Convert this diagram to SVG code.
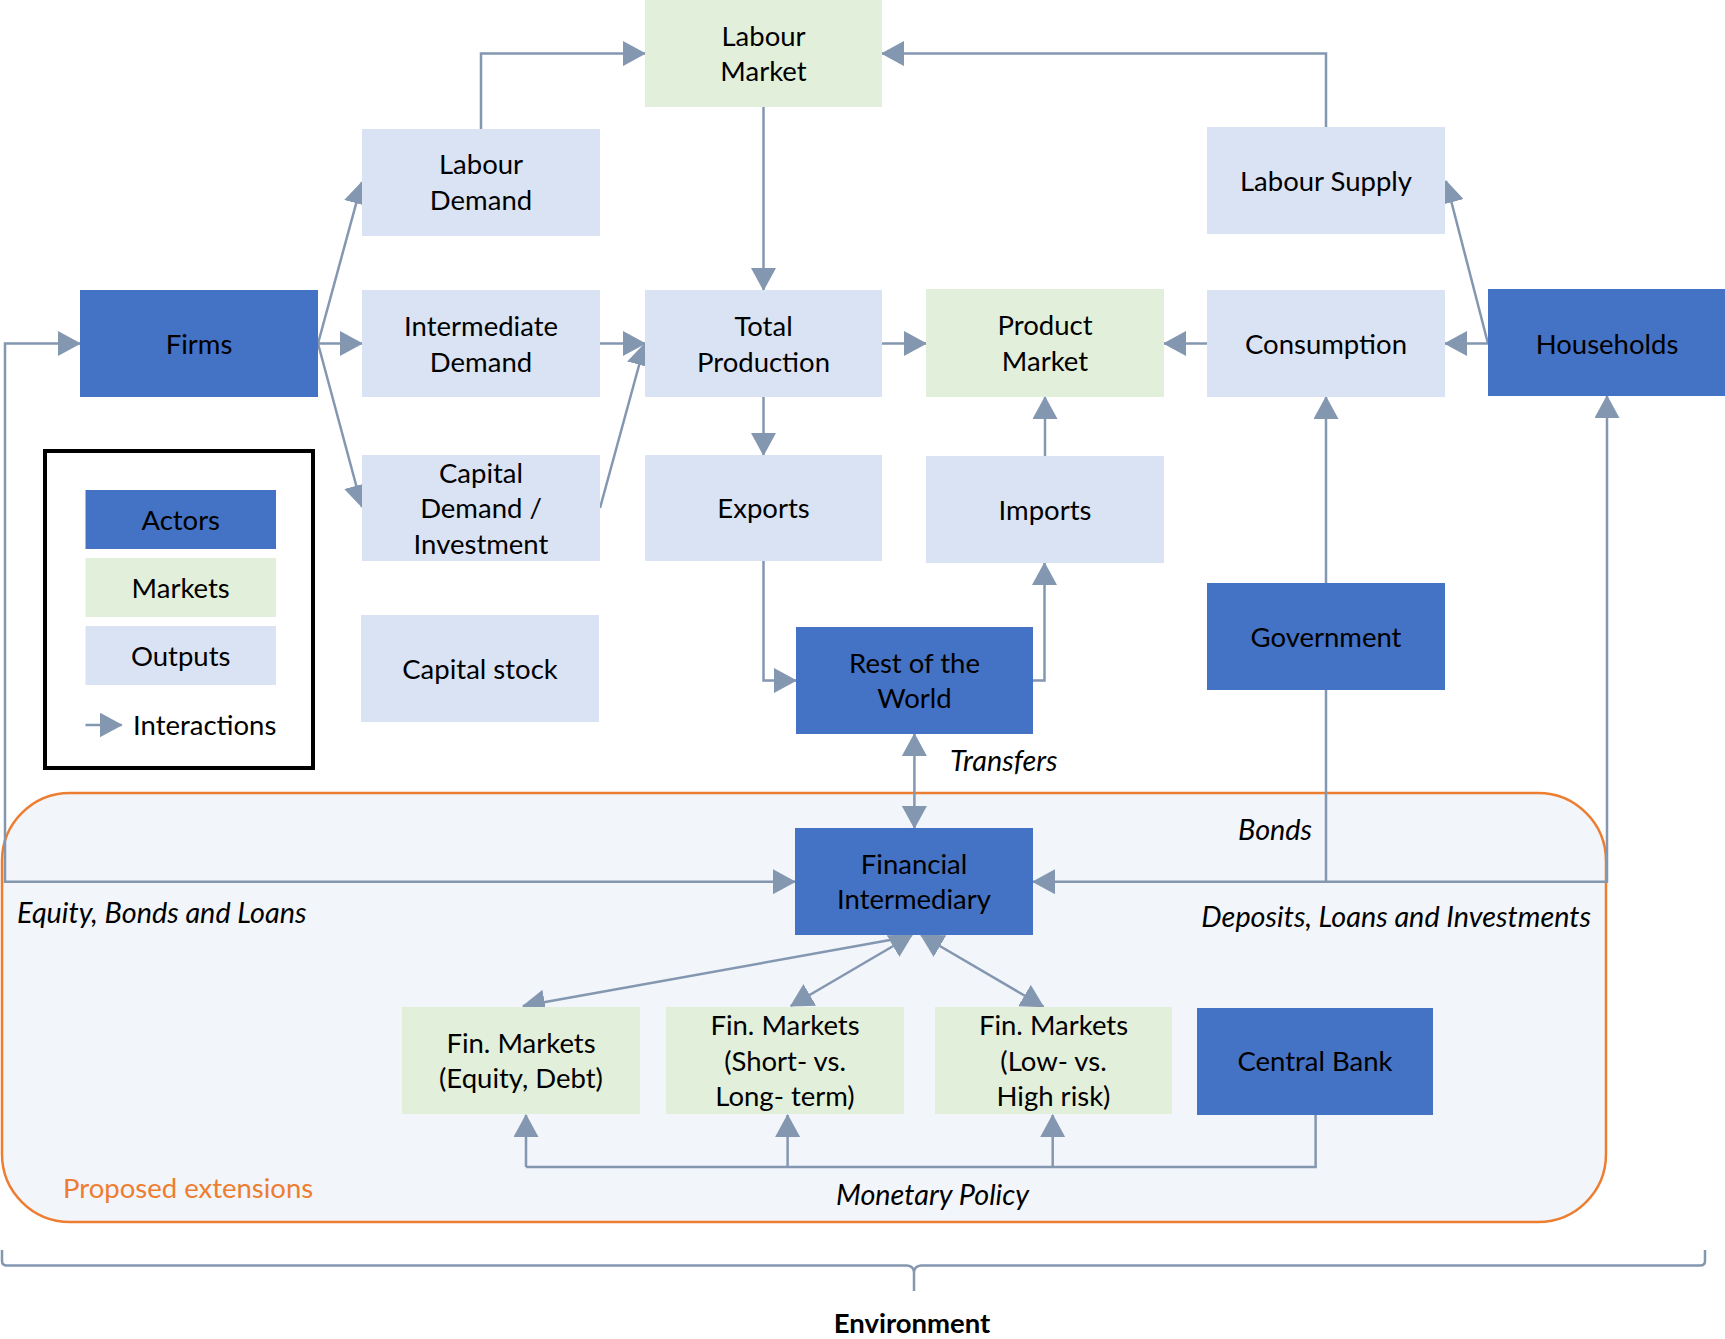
<svg xmlns="http://www.w3.org/2000/svg" width="1725" height="1339" viewBox="0 0 1725 1339">
<defs>
<style>
.actor{fill:#4472C4}
.market{fill:#E2EFDA}
.output{fill:#DAE3F3}
text{font-family:Lato,"Open Sans",sans-serif;font-size:27.5px;fill:#000}
.c{text-anchor:middle}
.it{font-style:italic;font-size:28.8px}
.con{fill:none;stroke:#8497B0;stroke-width:2.5}
.ar{marker-end:url(#ah)}
.ar2{marker-end:url(#ah);marker-start:url(#ah)}
</style>
<marker id="ah" viewBox="0 0 23 25" markerWidth="23" markerHeight="25" refX="22" refY="12.5" orient="auto-start-reverse" markerUnits="userSpaceOnUse">
<path d="M0,0 L23,12.5 L0,25 z" fill="#8497B0"/>
</marker>
</defs>
<rect width="1725" height="1339" fill="#fff"/>

<g id="proposed-extensions">
<rect x="2" y="793" width="1604" height="429" rx="68" ry="68" fill="#F2F5FA" stroke="#ED7D31" stroke-width="2.5"/>
<text x="63" y="1198" style="fill:#ED7D31">Proposed extensions</text>
</g>

<g id="legend">
<rect x="45" y="451" width="268" height="317" fill="#fff" stroke="#000" stroke-width="4"/>
<rect class="actor" x="85.5" y="490" width="190.5" height="59"/>
<text class="c" x="180.7" y="529.5">Actors</text>
<rect class="market" x="85.5" y="558" width="190.5" height="59"/>
<text class="c" x="180.7" y="597.5">Markets</text>
<rect class="output" x="85.5" y="626" width="190.5" height="59"/>
<text class="c" x="180.7" y="665.5">Outputs</text>
<path class="con ar" d="M85.5,725 H121.7"/>
<text x="133" y="735">Interactions</text>
</g>

<g id="connectors">
<path class="con ar" d="M481,129 V53.6 H645"/>
<path class="con ar" d="M1326,127 V53.6 H882"/>
<path class="con ar" d="M763.5,107 V290"/>
<path class="con ar" d="M318,343.5 L362,182"/>
<path class="con ar" d="M318,343.5 H362"/>
<path class="con ar" d="M318,343.5 L362,507"/>
<path class="con ar" d="M600,343.5 H645"/>
<path class="con ar" d="M600,508 L645,343.5"/>
<path class="con ar" d="M882,343.5 H926"/>
<path class="con ar" d="M1207,343.5 H1164"/>
<path class="con ar" d="M1488,343.5 H1445"/>
<path class="con ar" d="M1488,343.5 L1446,181"/>
<path class="con ar" d="M763.5,397 V455"/>
<path class="con ar" d="M1045,456 V397"/>
<path class="con ar" d="M763.5,561 V680.5 H796"/>
<path class="con ar" d="M1033,680.5 H1044.5 V563"/>
<path class="con ar" d="M1326,583 V397"/>
<path class="con ar2" d="M914.4,734 V828"/>
<path class="con ar2" d="M795,881.7 H5 V343.5 H80"/>
<path class="con ar2" d="M1033,881.7 H1607 V396"/>
<path class="con" d="M1326,690 V881.7"/>
<path class="con ar" d="M890,940 L523,1006"/>
<path class="con ar2" d="M912,935 L790.8,1006"/>
<path class="con ar2" d="M921,935 L1043.4,1006.7"/>
<path class="con" d="M1315.6,1115 V1167 H526"/>
<path class="con ar" d="M526,1167 V1115"/>
<path class="con ar" d="M787.6,1167 V1115"/>
<path class="con ar" d="M1052.7,1167 V1115"/>
<path class="con" d="M2,1250 V1261 Q2,1265.5 7,1265.5 H907 Q914,1266 914,1273 V1291 M914,1273 Q914,1266 921,1265.5 H1700 Q1705,1265.5 1705,1261 V1250"/>
</g>

<g id="labels">
<text class="it" x="950" y="771">Transfers</text>
<text class="it" x="1238" y="840">Bonds</text>
<text class="it" x="17" y="923">Equity, Bonds and Loans</text>
<text class="it" x="1591" y="927" text-anchor="end">Deposits, Loans and Investments</text>
<text class="it" x="836" y="1205">Monetary Policy</text>
<text class="c" x="912" y="1333" font-weight="bold">Environment</text>
</g>

<g id="labour-market"><rect class="market" x="645" y="0" width="237" height="107"/><text class="c" x="763.5" y="45.5">Labour</text><text class="c" x="763.5" y="81">Market</text></g>
<g id="labour-demand"><rect class="output" x="362" y="129" width="238" height="107"/><text class="c" x="481" y="174">Labour</text><text class="c" x="481" y="210">Demand</text></g>
<g id="firms"><rect class="actor" x="80" y="290" width="238" height="107"/><text class="c" x="199" y="354">Firms</text></g>
<g id="intermediate-demand"><rect class="output" x="362" y="290" width="238" height="107"/><text class="c" x="481" y="336">Intermediate</text><text class="c" x="481" y="371.5">Demand</text></g>
<g id="total-production"><rect class="output" x="645" y="290" width="237" height="107"/><text class="c" x="763.5" y="336">Total</text><text class="c" x="763.5" y="371.5">Production</text></g>
<g id="capital-demand"><rect class="output" x="362" y="455" width="238" height="106"/><text class="c" x="481" y="482.5">Capital</text><text class="c" x="481" y="518">Demand /</text><text class="c" x="481" y="553.5">Investment</text></g>
<g id="exports"><rect class="output" x="645" y="455" width="237" height="106"/><text class="c" x="763.5" y="518">Exports</text></g>
<g id="capital-stock"><rect class="output" x="361" y="615" width="238" height="107"/><text class="c" x="480" y="678.5">Capital stock</text></g>
<g id="labour-supply"><rect class="output" x="1207" y="127" width="238" height="107"/><text class="c" x="1326" y="191">Labour Supply</text></g>
<g id="product-market"><rect class="market" x="926" y="289" width="238" height="108"/><text class="c" x="1045" y="335">Product</text><text class="c" x="1045" y="370.5">Market</text></g>
<g id="consumption"><rect class="output" x="1207" y="290" width="238" height="107"/><text class="c" x="1326" y="353.5">Consumption</text></g>
<g id="households"><rect class="actor" x="1488" y="289" width="238" height="107"/><text class="c" x="1607" y="353.5">Households</text></g>
<g id="imports"><rect class="output" x="926" y="456" width="238" height="107"/><text class="c" x="1045" y="519.5">Imports</text></g>
<g id="government"><rect class="actor" x="1207" y="583" width="238" height="107"/><text class="c" x="1326" y="646.5">Government</text></g>
<g id="rest-of-the-world"><rect class="actor" x="796" y="627" width="237" height="107"/><text class="c" x="914.5" y="672.5">Rest of the</text><text class="c" x="914.5" y="708">World</text></g>
<g id="financial-intermediary"><rect class="actor" x="795" y="828" width="238" height="107"/><text class="c" x="914" y="873.5">Financial</text><text class="c" x="914" y="909">Intermediary</text></g>
<g id="fin-markets-equity"><rect class="market" x="402" y="1007" width="238" height="107"/><text class="c" x="521" y="1052.5">Fin. Markets</text><text class="c" x="521" y="1088">(Equity, Debt)</text></g>
<g id="fin-markets-term"><rect class="market" x="666" y="1007" width="238" height="107"/><text class="c" x="785" y="1035">Fin. Markets</text><text class="c" x="785" y="1070.5">(Short- vs.</text><text class="c" x="785" y="1106">Long- term)</text></g>
<g id="fin-markets-risk"><rect class="market" x="935" y="1007" width="237" height="107"/><text class="c" x="1053.5" y="1035">Fin. Markets</text><text class="c" x="1053.5" y="1070.5">(Low- vs.</text><text class="c" x="1053.5" y="1106">High risk)</text></g>
<g id="central-bank"><rect class="actor" x="1197" y="1008" width="236" height="107"/><text class="c" x="1315" y="1071">Central Bank</text></g>
</svg>
